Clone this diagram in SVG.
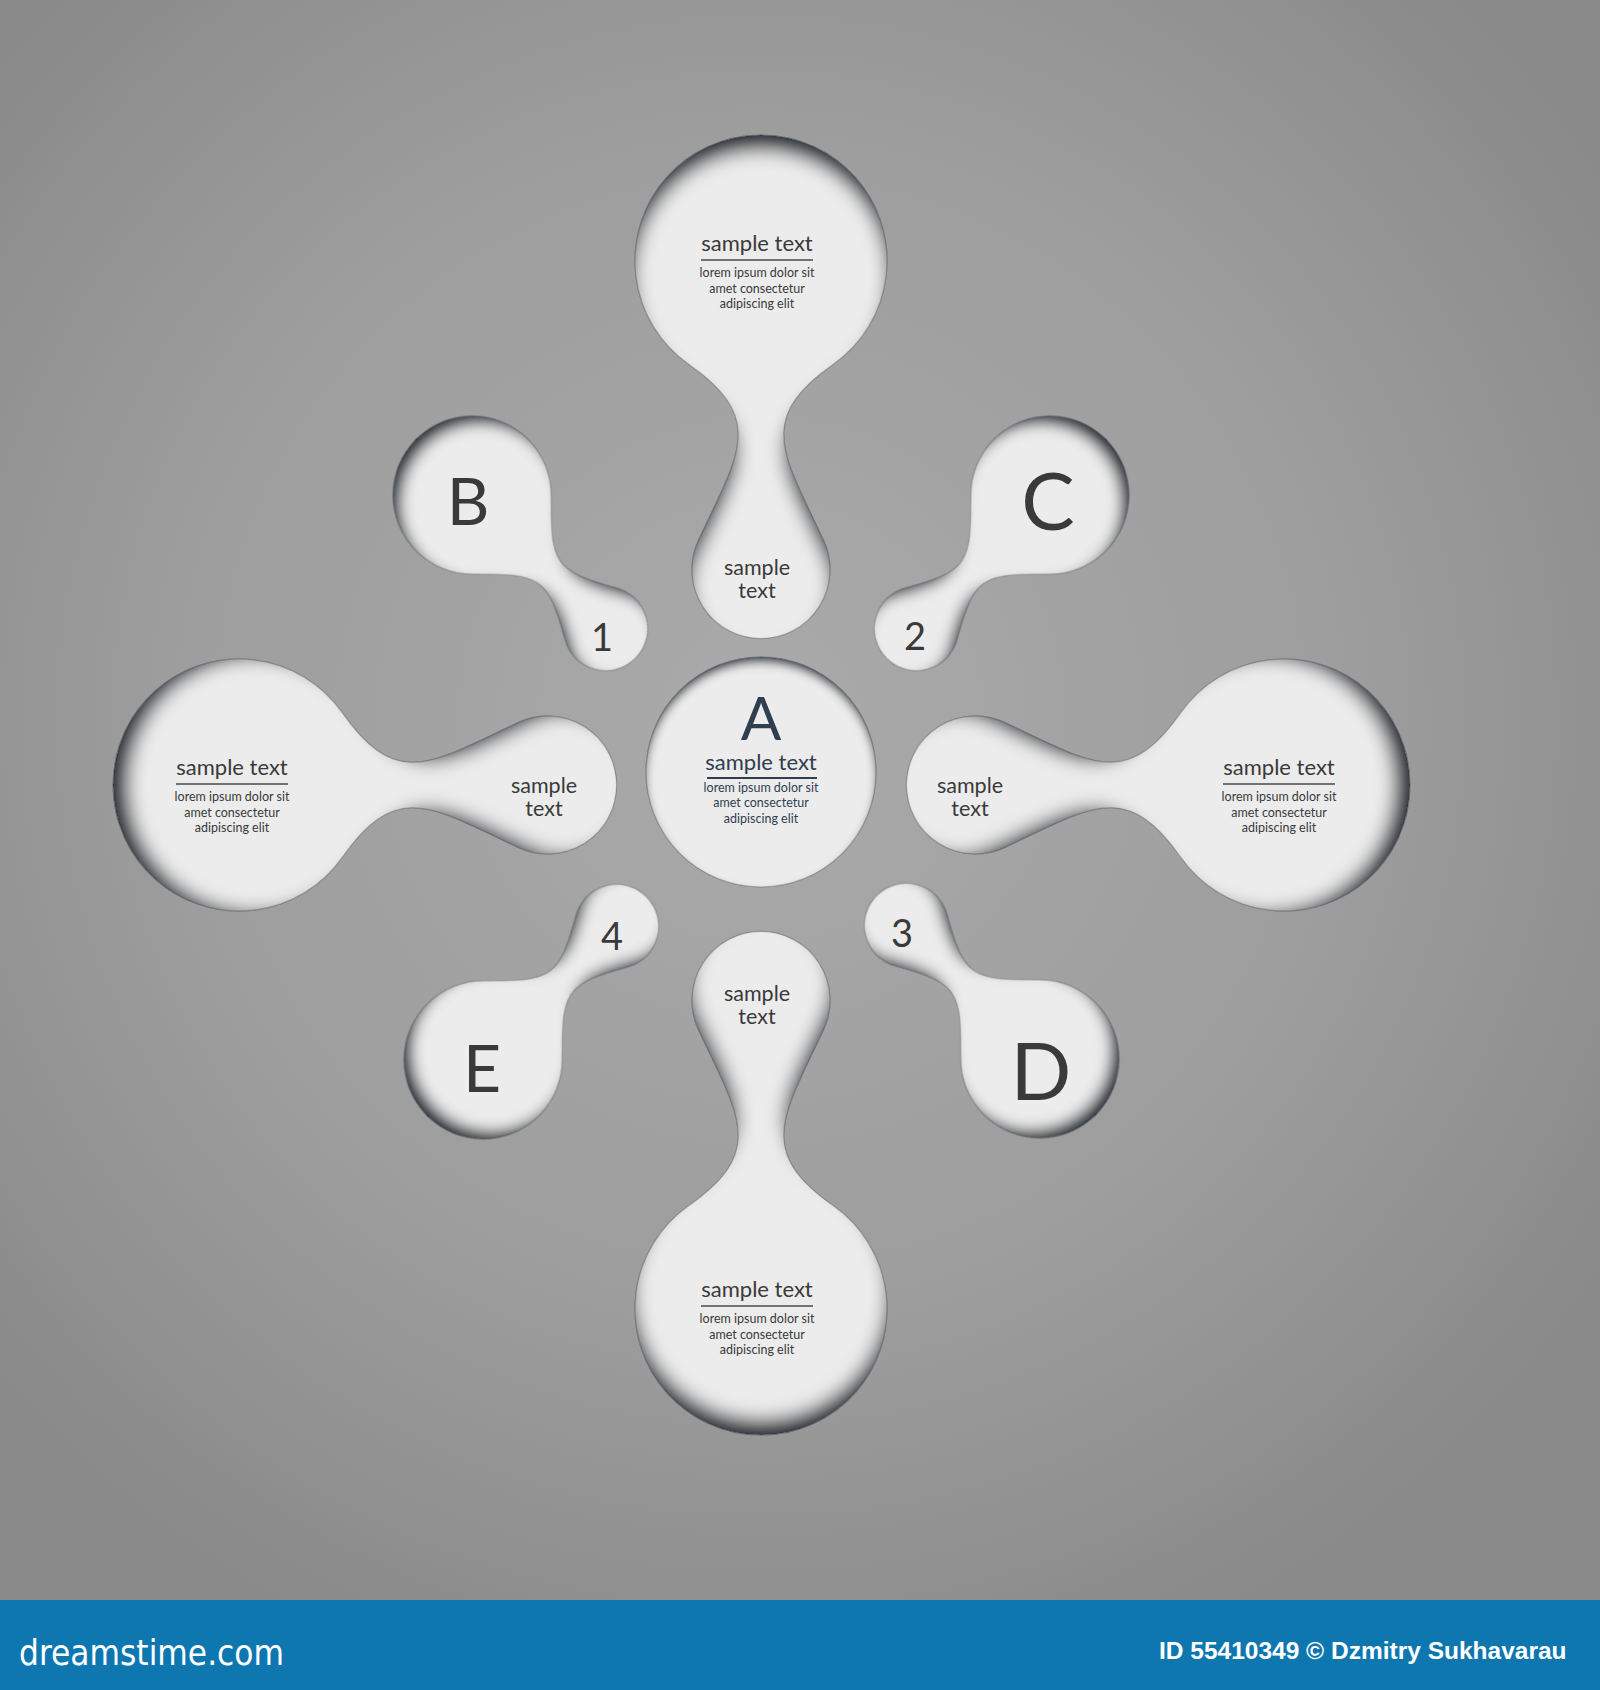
<svg xmlns="http://www.w3.org/2000/svg" width="1600" height="1690" viewBox="0 0 1600 1690">
<defs>
<radialGradient id="bg" cx="761" cy="720" r="1000" gradientUnits="userSpaceOnUse">
<stop offset="0" stop-color="#aaaaaa"/>
<stop offset="0.6" stop-color="#9d9d9d"/>
<stop offset="1" stop-color="#8a8a8a"/>
</radialGradient>
<filter id="cutL" x="-30%" y="-30%" width="160%" height="160%">
<feFlood flood-color="#1a2533" result="c"/>
<feComposite in="c" in2="SourceAlpha" operator="out" result="o"/>
<feOffset in="o" dx="0" dy="16" result="off"/>
<feGaussianBlur in="off" stdDeviation="9" result="b"/>
<feComposite in="b" in2="SourceAlpha" operator="in" result="s"/>
<feMerge><feMergeNode in="SourceGraphic"/><feMergeNode in="s"/></feMerge>
</filter>
<filter id="cutM" x="-30%" y="-30%" width="160%" height="160%">
<feFlood flood-color="#1a2533" result="c"/>
<feComposite in="c" in2="SourceAlpha" operator="out" result="o"/>
<feOffset in="o" dx="0" dy="12" result="off"/>
<feGaussianBlur in="off" stdDeviation="7" result="b"/>
<feComposite in="b" in2="SourceAlpha" operator="in" result="s"/>
<feMerge><feMergeNode in="SourceGraphic"/><feMergeNode in="s"/></feMerge>
</filter>
<filter id="cutS" x="-30%" y="-30%" width="160%" height="160%">
<feFlood flood-color="#1a2533" result="c"/>
<feComposite in="c" in2="SourceAlpha" operator="out" result="o"/>
<feOffset in="o" dx="0" dy="6" result="off"/>
<feGaussianBlur in="off" stdDeviation="5" result="b"/>
<feComposite in="b" in2="SourceAlpha" operator="in" result="s"/>
<feMerge><feMergeNode in="SourceGraphic"/><feMergeNode in="s"/></feMerge>
</filter>
<path id="bigBlob" d="M72.3,103.2 A126,126 0 1 0 -72.3,103.2 C5.8,157.9 -22.2,193 -62.5,279.3 A69,69 0 1 0 62.5,279.3 C22.2,193 -5.8,157.9 72.3,103.2 Z"/>
<path id="diagBlob" d="M55.9,55.9 A79,79 0 1 0 -55.9,55.9 C-8.8,103 -3.1,110.3 -36.4,168 A42,42 0 1 0 36.4,168 C3.1,110.3 8.8,103 55.9,55.9 Z"/>
</defs>
<style>
.hole{fill:#ececec;stroke:#4e5966;stroke-opacity:0.35;stroke-width:1.2}
.big{filter:url(#cutL)}
.diag{filter:url(#cutM)}
.center{filter:url(#cutS)}
.t{font-family:Lato,"Open Sans",sans-serif;fill:#3a3a3a;text-anchor:middle}
.head{font-size:22px}
.lor{font-size:12.5px}
.two{font-size:21.5px}
.let{font-size:66px}
.letL{font-size:80px}
.num{font-size:38px}
.navy{fill:#2f3e50}
.ul{stroke:#4a4a4a;stroke-width:1.6}
.ulA{stroke:#2f3e50;stroke-width:1.8}
.foot{fill:#ffffff}
</style>
<rect x="0" y="0" width="1600" height="1600" fill="url(#bg)"/>
<g id="connectors"/>
<g id="node-top">
<use href="#bigBlob" class="hole big" transform="translate(761,261)"/>
<text class="t head" x="757" y="251">sample text</text>
<line class="ul" x1="701" y1="260" x2="813" y2="260"/>
<text class="t lor" x="757" y="277">lorem ipsum dolor sit</text>
<text class="t lor" x="757" y="293">amet consectetur</text>
<text class="t lor" x="757" y="308">adipiscing elit</text>
<text class="t two" x="757" y="575">sample</text>
<text class="t two" x="757" y="598">text</text>
</g>
<g id="node-left">
<use href="#bigBlob" class="hole big" transform="translate(239,785) rotate(-90)"/>
<text class="t head" x="232" y="775">sample text</text>
<line class="ul" x1="176" y1="784" x2="288" y2="784"/>
<text class="t lor" x="232" y="801">lorem ipsum dolor sit</text>
<text class="t lor" x="232" y="817">amet consectetur</text>
<text class="t lor" x="232" y="832">adipiscing elit</text>
<text class="t two" x="544" y="793">sample</text>
<text class="t two" x="544" y="816">text</text>
</g>
<g id="node-right">
<use href="#bigBlob" class="hole big" transform="translate(1284,785) rotate(90)"/>
<text class="t head" x="1279" y="775">sample text</text>
<line class="ul" x1="1223" y1="784" x2="1335" y2="784"/>
<text class="t lor" x="1279" y="801">lorem ipsum dolor sit</text>
<text class="t lor" x="1279" y="817">amet consectetur</text>
<text class="t lor" x="1279" y="832">adipiscing elit</text>
<text class="t two" x="970" y="793">sample</text>
<text class="t two" x="970" y="816">text</text>
</g>
<g id="node-bottom">
<use href="#bigBlob" class="hole big" transform="translate(761,1309) rotate(180)"/>
<text class="t head" x="757" y="1297">sample text</text>
<line class="ul" x1="701" y1="1306" x2="813" y2="1306"/>
<text class="t lor" x="757" y="1323">lorem ipsum dolor sit</text>
<text class="t lor" x="757" y="1339">amet consectetur</text>
<text class="t lor" x="757" y="1354">adipiscing elit</text>
<text class="t two" x="757" y="1001">sample</text>
<text class="t two" x="757" y="1024">text</text>
</g>
<g id="node-B">
<use href="#diagBlob" class="hole diag" transform="translate(472,495) rotate(-45)"/>
<text class="t let" x="468" y="525">B</text>
<text class="t num" x="602" y="651">1</text>
</g>
<g id="node-C">
<use href="#diagBlob" class="hole diag" transform="translate(1050,495) rotate(45)"/>
<text class="t letL" x="1048" y="530">C</text>
<text class="t num" x="915" y="650">2</text>
</g>
<g id="node-D">
<use href="#diagBlob" class="hole diag" transform="translate(1040,1059) rotate(135)"/>
<text class="t letL" x="1041" y="1100">D</text>
<text class="t num" x="902" y="947">3</text>
</g>
<g id="node-E">
<use href="#diagBlob" class="hole diag" transform="translate(483,1060) rotate(-135)"/>
<text class="t let" x="482" y="1092">E</text>
<text class="t num" x="612" y="950">4</text>
</g>
<g id="node-A">
<circle class="hole center" cx="761" cy="772" r="115"/>
<text class="t navy" x="761" y="740" font-size="60">A</text>
<text class="t navy head" x="761" y="770">sample text</text>
<line class="ulA" x1="707" y1="778" x2="817" y2="778"/>
<text class="t navy lor" x="761" y="792">lorem ipsum dolor sit</text>
<text class="t navy lor" x="761" y="807">amet consectetur</text>
<text class="t navy lor" x="761" y="823">adipiscing elit</text>
</g>
<g id="footer">
<rect x="0" y="1600" width="1600" height="90" fill="#0f77b0"/>
<text class="foot" x="19" y="1665" font-family="'DejaVu Sans',sans-serif" font-size="36" textLength="265" lengthAdjust="spacingAndGlyphs">dreamstime.com</text>
<text class="foot" x="1159" y="1659" font-family="'Liberation Sans',Arial,sans-serif" font-size="24.5" font-weight="bold">ID 55410349 © Dzmitry Sukhavarau</text>
</g>
</svg>
